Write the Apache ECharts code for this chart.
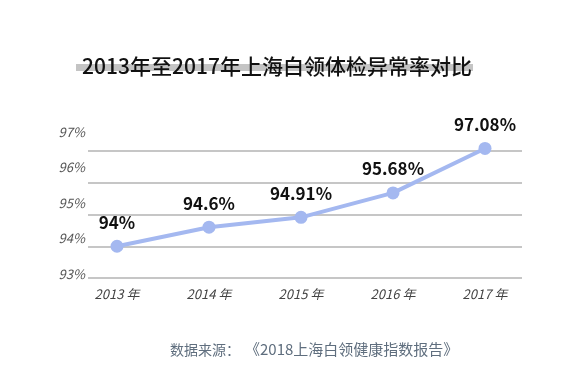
<!DOCTYPE html>
<html><head><meta charset="utf-8">
<script src="https://cdn.jsdelivr.net/npm/echarts@6/dist/echarts.min.js"></script>
<style>html,body{margin:0;padding:0;background:#fff}#c{width:588px;height:379px}</style>
</head><body><div id="c"></div>
<script>
const categories = ['2013 年','2014 年','2015 年','2016 年','2017 年'];
const values = [94, 94.6, 94.91, 95.68, 97.08];
const valueLabels = ['94%','94.6%','94.91%','95.68%','97.08%'];
const yTicks = [93, 94, 95, 96, 97];

const chart = echarts.init(document.getElementById('c'));
const hand = '"Noto Sans CJK SC", sans-serif';
const srcStyle = {fontFamily: hand, fontSize: 14, fontWeight: 'normal', color: '#5f6e7e'};
chart.setOption({
  backgroundColor: '#fff',
  animation: false,
  title: [{
    text: '2013年至2017年上海白领体检异常率对比',
    left: 272, top: 51, textAlign: 'center',
    textStyle: {fontFamily: hand, fontSize: 21, fontWeight: 500, color: '#111'},
    z: 10
  }, {
    text: '数据来源：', left: 165, top: 338, textStyle: srcStyle
  }, {
    text: '《2018上海白领健康指数报告》', left: 240, top: 337,
    textStyle: Object.assign({}, srcStyle, {fontSize: 15})
  }],
  graphic: [{
    type: 'rect', z: 1,
    shape: {x: 76, y: 64, width: 397, height: 7},
    style: {fill: '#c4c4c4'}
  }],
  grid: [
    {left: 88, right: 66, top: 151, bottom: 101},
    {left: 117, right: 103, top: 151, bottom: 101},
    {left: 88, right: 66, top: 132, bottom: 105}
  ],
  xAxis: [
    {gridIndex: 0, type: 'category', data: categories, show: false},
    {gridIndex: 1, type: 'category', data: categories, boundaryGap: false,
      axisLine: {show: false}, axisTick: {show: false},
      axisLabel: {margin: 10, fontFamily: hand, fontStyle: 'italic', fontSize: 13, color: '#444'}},
    {gridIndex: 2, type: 'category', data: categories, show: false}
  ],
  yAxis: [
    {gridIndex: 0, type: 'value', min: yTicks[0], max: yTicks[yTicks.length-1], interval: 1,
      axisLabel: {show: false}, axisLine: {show: false}, axisTick: {show: false},
      splitLine: {lineStyle: {color: '#c6c6c6', width: 2}}},
    {gridIndex: 1, type: 'value', min: yTicks[0], max: yTicks[yTicks.length-1], interval: 1, show: false},
    {gridIndex: 2, type: 'value', min: yTicks[0], max: yTicks[yTicks.length-1], interval: 1,
      axisLine: {show: false}, axisTick: {show: false}, splitLine: {show: false},
      axisLabel: {margin: 3, formatter: v => v + '%', fontFamily: hand, fontStyle: 'italic', fontSize: 13, color: '#555'}}
  ],
  series: [{
    type: 'line', xAxisIndex: 1, yAxisIndex: 1,
    data: values, clip: false,
    symbol: 'circle', symbolSize: 13,
    lineStyle: {color: '#a4b8f0', width: 4},
    itemStyle: {color: '#a4b8f0'},
    label: {show: true, position: 'top', distance: 9,
      formatter: p => valueLabels[p.dataIndex],
      fontFamily: hand, fontSize: 17, fontWeight: 'bold', color: '#111'}
  }]
});
</script></body></html>
